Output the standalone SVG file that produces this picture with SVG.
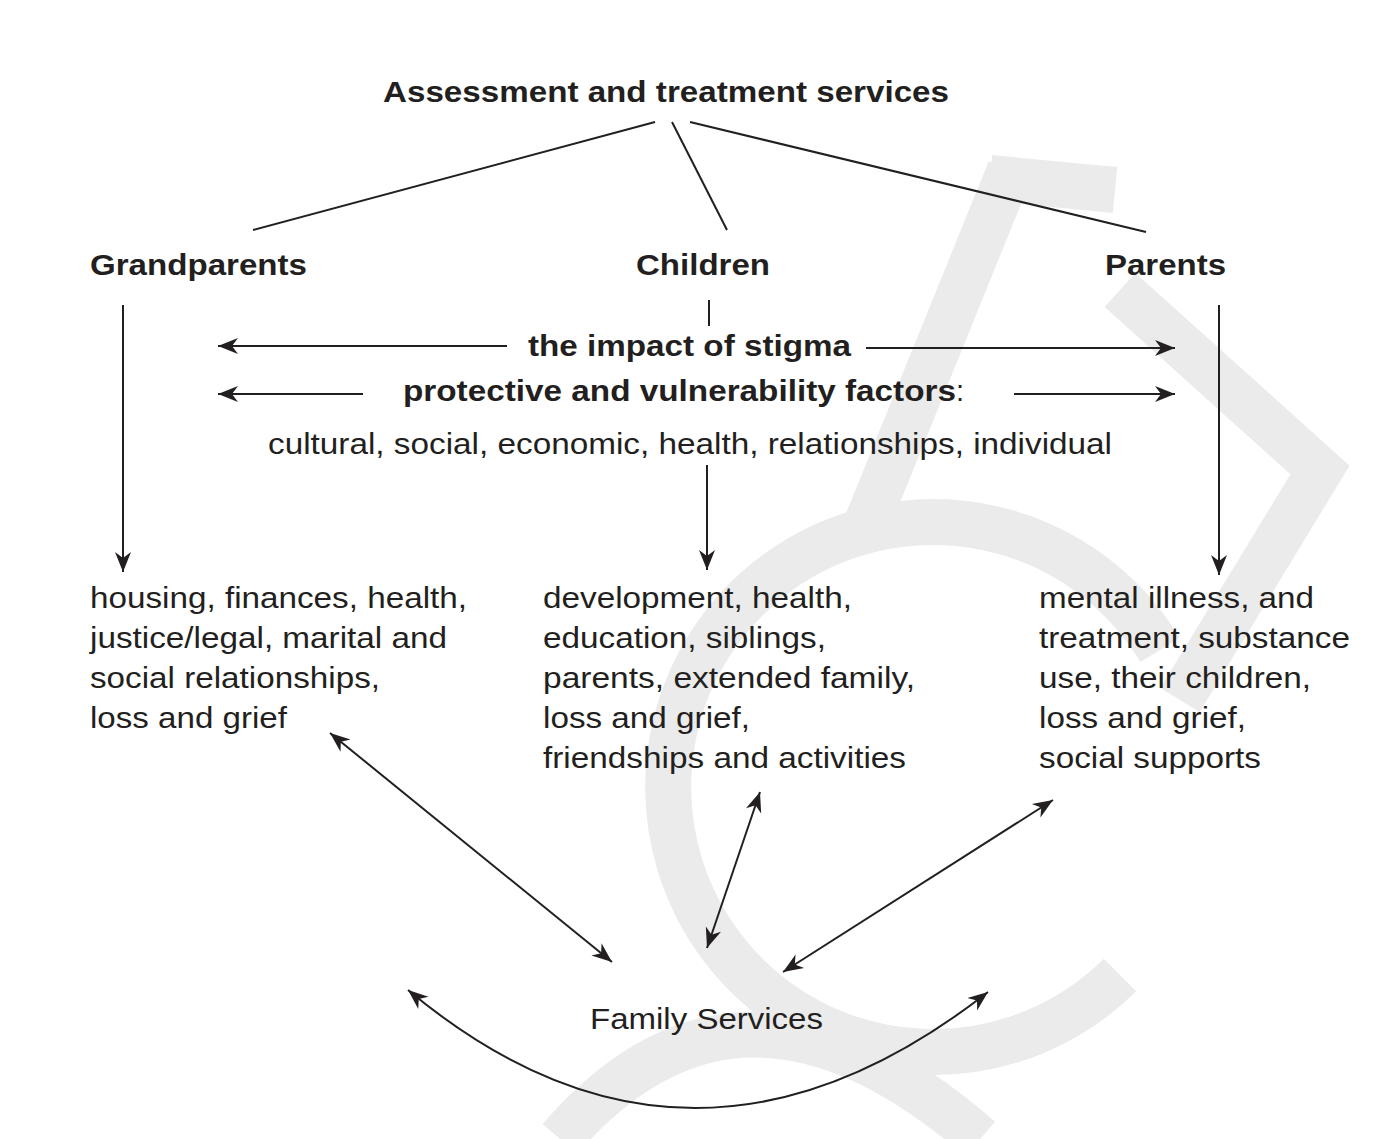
<svg xmlns="http://www.w3.org/2000/svg" width="1378" height="1139" viewBox="0 0 1378 1139">
<defs>
<marker id="a" viewBox="0 0 10 10" refX="10" refY="5" markerWidth="20" markerHeight="20" markerUnits="userSpaceOnUse" orient="auto-start-reverse"><path d="M0,1 L10,5 L0,9 L3,5 Z" fill="#231f20"/></marker>
<style>
text{font-family:"Liberation Sans",Arial,sans-serif;fill:#231f20}
.b{font-weight:bold;font-size:29px}
.r{font-size:29px}
.l{stroke:#231f20;stroke-width:2;fill:none}
.w{stroke:#ebebeb;stroke-width:46;fill:none}
</style>
</defs>
<rect width="1378" height="1139" fill="#fff"/>
<g id="watermark">
<path class="w" d="M990 178 L1115 190"/>
<path class="w" d="M1010 170 L860 540"/>
<path class="w" d="M1120 290 L1320 470 L1180 700"/>
<path class="w" d="M1120 975 A265 265 0 1 1 1160 650"/>
<path class="w" d="M560 1139 Q740 930 980 1139"/>
</g>
<g id="title"><text class="b" x="383" y="102" textLength="566" lengthAdjust="spacingAndGlyphs">Assessment and treatment services</text></g>
<g id="grandparents"><text class="b" x="90" y="275" textLength="217" lengthAdjust="spacingAndGlyphs">Grandparents</text></g>
<g id="children"><text class="b" x="636" y="275" textLength="134" lengthAdjust="spacingAndGlyphs">Children</text></g>
<g id="parents"><text class="b" x="1105" y="275" textLength="121" lengthAdjust="spacingAndGlyphs">Parents</text></g>
<g id="stigma"><text class="b" x="528" y="356" textLength="323" lengthAdjust="spacingAndGlyphs">the impact of stigma</text></g>
<g id="factors"><text class="b" x="403" y="401" textLength="553" lengthAdjust="spacingAndGlyphs">protective and vulnerability factors</text><text class="r" x="956" y="401">:</text>
<text class="r" x="268" y="454" textLength="844" lengthAdjust="spacingAndGlyphs">cultural, social, economic, health, relationships, individual</text></g>
<g id="gp-needs"><text class="r" x="90" y="608" textLength="377" lengthAdjust="spacingAndGlyphs">housing, finances, health,</text><text class="r" x="90" y="648" textLength="357" lengthAdjust="spacingAndGlyphs">justice/legal, marital and</text><text class="r" x="90" y="688" textLength="290" lengthAdjust="spacingAndGlyphs">social relationships,</text><text class="r" x="90" y="728" textLength="197" lengthAdjust="spacingAndGlyphs">loss and grief</text></g>
<g id="ch-needs"><text class="r" x="543" y="608" textLength="309" lengthAdjust="spacingAndGlyphs">development, health,</text><text class="r" x="543" y="648" textLength="283" lengthAdjust="spacingAndGlyphs">education, siblings,</text><text class="r" x="543" y="688" textLength="372" lengthAdjust="spacingAndGlyphs">parents, extended family,</text><text class="r" x="543" y="728" textLength="207" lengthAdjust="spacingAndGlyphs">loss and grief,</text><text class="r" x="543" y="768" textLength="363" lengthAdjust="spacingAndGlyphs">friendships and activities</text></g>
<g id="pa-needs"><text class="r" x="1039" y="608" textLength="275" lengthAdjust="spacingAndGlyphs">mental illness, and</text><text class="r" x="1039" y="648" textLength="311" lengthAdjust="spacingAndGlyphs">treatment, substance</text><text class="r" x="1039" y="688" textLength="272" lengthAdjust="spacingAndGlyphs">use, their children,</text><text class="r" x="1039" y="728" textLength="207" lengthAdjust="spacingAndGlyphs">loss and grief,</text><text class="r" x="1039" y="768" textLength="222" lengthAdjust="spacingAndGlyphs">social supports</text></g>
<g id="family"><text class="r" x="590" y="1029" textLength="233" lengthAdjust="spacingAndGlyphs">Family Services</text></g>
<g id="connectors">
<path class="l" d="M655 122 L253 230"/>
<path class="l" d="M672 122 L727 230"/>
<path class="l" d="M690 122 L1146 232"/>
<path class="l" d="M709 300 L709 326"/>
<path class="l" d="M123 305 L123 572" marker-end="url(#a)"/>
<path class="l" d="M1219 305 L1219 575" marker-end="url(#a)"/>
<path class="l" d="M507 346 L218 346" marker-end="url(#a)"/>
<path class="l" d="M866 348 L1175 348" marker-end="url(#a)"/>
<path class="l" d="M363 394 L218 394" marker-end="url(#a)"/>
<path class="l" d="M1014 394 L1175 394" marker-end="url(#a)"/>
<path class="l" d="M707 465 L707 570" marker-end="url(#a)"/>
<path class="l" d="M330 733 L612 962" marker-start="url(#a)" marker-end="url(#a)"/>
<path class="l" d="M760 792 L707 948" marker-start="url(#a)" marker-end="url(#a)"/>
<path class="l" d="M1053 800 L783 972" marker-start="url(#a)" marker-end="url(#a)"/>
<path class="l" d="M408 990 Q690 1225 988 992" marker-start="url(#a)" marker-end="url(#a)"/>
</g>
</svg>
